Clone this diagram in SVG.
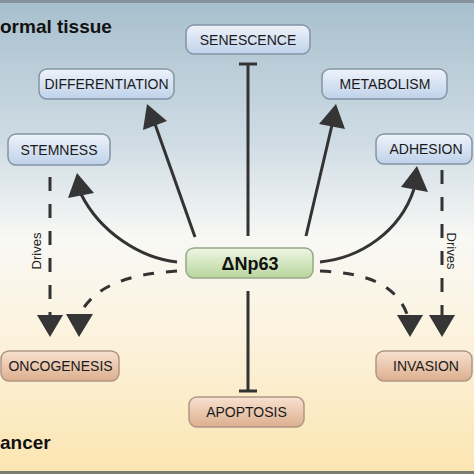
<svg xmlns="http://www.w3.org/2000/svg" width="474" height="474" viewBox="0 0 474 474">
<defs>
<linearGradient id="bg" x1="0" y1="0" x2="0" y2="1">
<stop offset="0" stop-color="#a7bfcd"/>
<stop offset="0.3" stop-color="#cfdce4"/>
<stop offset="0.5" stop-color="#f8f8f5"/>
<stop offset="0.7" stop-color="#fcf3df"/>
<stop offset="1" stop-color="#fbe5b0"/>
</linearGradient>
<linearGradient id="gBlue" x1="0" y1="0" x2="0" y2="1">
<stop offset="0" stop-color="#eef3fa"/>
<stop offset="1" stop-color="#bfd2ea"/>
</linearGradient>
<linearGradient id="gGreen" x1="0" y1="0" x2="0" y2="1">
<stop offset="0" stop-color="#eef6e4"/>
<stop offset="1" stop-color="#b8d69c"/>
</linearGradient>
<linearGradient id="gOrange" x1="0" y1="0" x2="0" y2="1">
<stop offset="0" stop-color="#f8e2d0"/>
<stop offset="1" stop-color="#dcae8e"/>
</linearGradient>
</defs>
<style>
.blue{fill:url(#gBlue);stroke:#8494a4;stroke-width:1.5}
.green{fill:url(#gGreen);stroke:#95a88a;stroke-width:1.5}
.orange{fill:url(#gOrange);stroke:#ae9686;stroke-width:1.5}
.lbl{font-family:"Liberation Sans",Arial,sans-serif;font-size:14px;fill:#1a1a1a;text-anchor:middle}
.hd{font-family:"Liberation Sans",Arial,sans-serif;font-size:19px;font-weight:bold;fill:#111}
.drv{font-family:"Liberation Sans",Arial,sans-serif;font-size:13px;fill:#222;text-anchor:middle}
.ln{fill:none;stroke:#333;stroke-width:3}
.dash{fill:none;stroke:#333;stroke-width:3;stroke-dasharray:14 13}
.cdash{fill:none;stroke:#333;stroke-width:3;stroke-dasharray:11 12}
.head{fill:#353535}
</style>
<rect x="0" y="0" width="474" height="474" fill="url(#bg)"/>
<rect x="0" y="0" width="474" height="3" fill="#86929a"/>
<rect x="0" y="471" width="474" height="3" fill="#7b7d70"/>
<text class="hd" x="0" y="33">ormal tissue</text>
<text class="hd" x="0" y="449">ancer</text>
<g id="connectors">
<line class="ln" x1="248" y1="236" x2="248" y2="64"/>
<line class="ln" x1="239" y1="64" x2="257" y2="64"/>
<line class="ln" x1="248" y1="291" x2="248" y2="391"/>
<line class="ln" x1="239" y1="391" x2="257" y2="391"/>
<line class="ln" x1="195" y1="237" x2="155" y2="124"/>
<polygon class="head" points="147,104 143,130 167,121"/>
<line class="ln" x1="306" y1="236" x2="332" y2="125"/>
<polygon class="head" points="336,104 319,124 345,129"/>
<path class="ln" d="M177,262 C140,258 100,232 81,194"/>
<polygon class="head" points="77,173 68,198 94,193"/>
<path class="ln" d="M320,262 C360,258 400,232 414,189"/>
<polygon class="head" points="417,166 401,187 428,192"/>
<path class="cdash" d="M177,271 C130,274 95,285 80,314"/>
<polygon class="head" points="66,314 93,314 79,337"/>
<path class="cdash" d="M320,271 C368,273 396,285 407,314"/>
<polygon class="head" points="397,315 423,315 410,337"/>
<line class="dash" x1="50" y1="177" x2="50" y2="315"/>
<polygon class="head" points="37,315 63,315 50,337"/>
<line class="dash" x1="442" y1="170" x2="442" y2="315"/>
<polygon class="head" points="429,315 455,315 442,337"/>
<text class="drv" transform="translate(41,251) rotate(-90)">Drives</text>
<text class="drv" transform="translate(447,251) rotate(90)">Drives</text>
</g>
<g id="senescence"><rect class="blue" x="186" y="25" width="124" height="29" rx="8"/><text class="lbl" x="248" y="45">SENESCENCE</text></g>
<g id="differentiation"><rect class="blue" x="39" y="69" width="135" height="30" rx="8"/><text class="lbl" x="106.5" y="89">DIFFERENTIATION</text></g>
<g id="metabolism"><rect class="blue" x="322" y="69" width="125" height="30" rx="8"/><text class="lbl" x="385" y="89">METABOLISM</text></g>
<g id="stemness"><rect class="blue" x="8" y="134" width="102" height="31" rx="8"/><text class="lbl" x="59" y="154.5">STEMNESS</text></g>
<g id="adhesion"><rect class="blue" x="376" y="134" width="96" height="30" rx="8"/><text class="lbl" x="426" y="154">ADHESION</text></g>
<g id="dnp63"><rect class="green" x="186" y="248" width="127" height="30" rx="8"/><text class="lbl" x="250" y="269.5" style="font-size:18px;font-weight:bold;fill:#111">ΔNp63</text></g>
<g id="oncogenesis"><rect class="orange" x="1" y="351" width="118" height="30" rx="8"/><text class="lbl" x="60.5" y="371">ONCOGENESIS</text></g>
<g id="invasion"><rect class="orange" x="376" y="351" width="96" height="30" rx="8"/><text class="lbl" x="426" y="371">INVASION</text></g>
<g id="apoptosis"><rect class="orange" x="189" y="397" width="115" height="30" rx="8"/><text class="lbl" x="246.5" y="417">APOPTOSIS</text></g>
</svg>
